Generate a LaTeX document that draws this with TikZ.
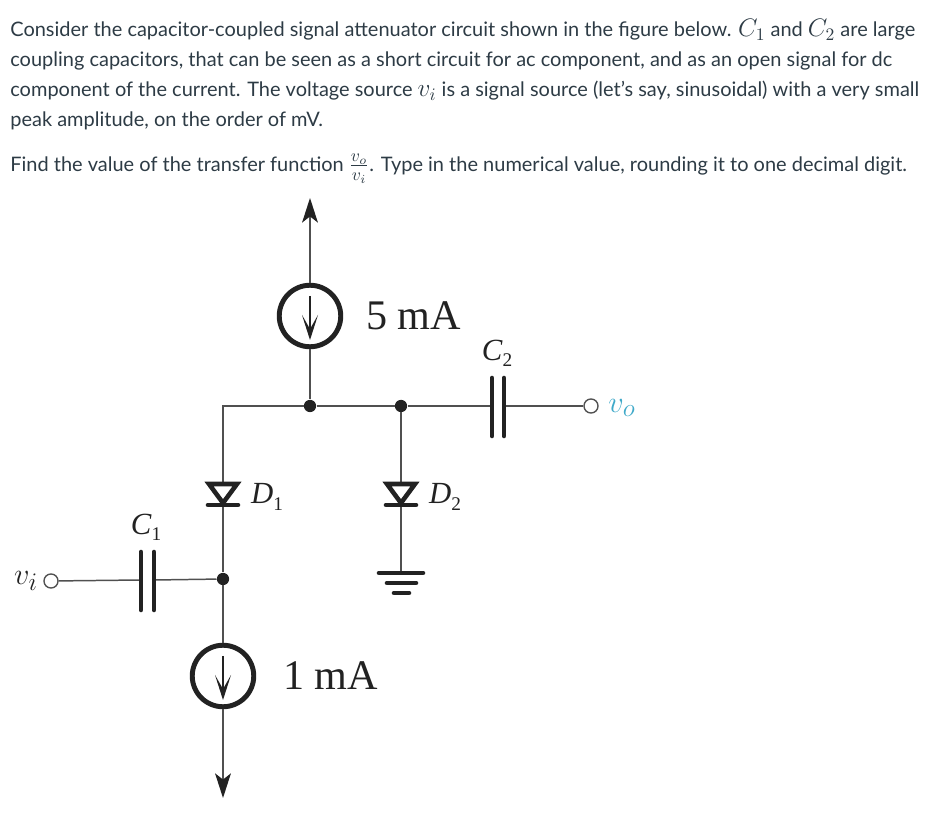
\documentclass[tikz,border=0pt]{standalone}
\usepackage{fontspec}
\usepackage{amsmath}
\setmainfont{Lato}
\newfontfamily\timesfont{Liberation Serif}
\usetikzlibrary{arrows.meta}
\definecolor{textgray}{HTML}{2D3B45}
\definecolor{wiregray}{HTML}{505050}
\definecolor{inkblack}{HTML}{222222}
\definecolor{voblue}{HTML}{3FA9C9}
\tikzset{
    wire/.style={draw=wiregray,line width=0.85pt},
    plate/.style={draw=inkblack,line width=2.6pt,line cap=round},
    dot/.style={circle,fill=inkblack,inner sep=0pt,minimum size=7pt},
    port/.style={circle,draw=wiregray,fill=white,line width=0.8pt,inner sep=0pt,minimum size=8pt},
    source/.style={circle,draw=inkblack,line width=2.8pt,fill=white,inner sep=0pt,minimum size=35pt},
    para/.style={anchor=base west,inner sep=0pt,text=textgray,font=\fontsize{11.37}{14}\selectfont},
    value/.style={inner sep=0pt,text=inkblack,font=\timesfont\fontsize{24}{28}\selectfont},
    symb/.style={inner sep=0pt,text=inkblack,font=\timesfont\fontsize{17.5}{20}\selectfont},
    volt/.style={inner sep=0pt,text=inkblack,font=\fontsize{19}{22}\selectfont},
    bigtip/.style={-{Stealth[length=14pt,width=9pt,inset=3.5pt,color=inkblack]}}
}
\newcommand{\lgm}[1]{{\fontsize{14}{14}\selectfont$#1$}}
\newcommand{\lowsub}[1]{\raisebox{-3.5pt}{\fontsize{11}{12}\selectfont #1}}
\begin{document}
\begin{tikzpicture}[x=0.02cm,y=-0.02cm]
    \useasboundingbox (0,0) rectangle (938,824);

    \node[para] (line1) at (10,37) {Consider the capacitor-coupled signal attenuator circuit shown in the figure below. \lgm{C_1} and \lgm{C_2} are large};
    \node[para] (line2) at (10,67) {coupling capacitors, that can be seen as a short circuit for ac component, and as an open signal for dc};
    \node[para] (line3) at (10,97) {component of the current. The voltage source \lgm{v_i} is a signal source (let's say, sinusoidal) with a very small};
    \node[para] (line4) at (10,127) {peak amplitude, on the order of mV.};
    \node[para] (line5) at (10,172) {Find the value of the transfer function \lgm{\frac{v_o}{v_i}}. Type in the numerical value, rounding it to one decimal digit.};

    \coordinate (topend) at (310,198);
    \coordinate (botend) at (223,798);
    \coordinate (corner) at (223,406);
    \coordinate (c1l) at (141,580);
    \coordinate (c1r) at (154,580);
    \coordinate (c2l) at (492,406);
    \coordinate (c2r) at (504,406);
    \coordinate (gnd) at (401,573);

    \node[dot] (topdot) at (310,406) {};
    \node[dot] (d2dot) at (401,406) {};
    \node[dot] (indot) at (223,579) {};
    \node[port] (vi) at (51,581) {};
    \node[port] (vo) at (591,406) {};
    \node[source] (src5) at (310,316) {};
    \node[source] (src1) at (223,676) {};

    % wires
    \draw[wire,bigtip] (src5) -- (topend);
    \draw[wire,bigtip] (src1) -- (botend);
    \draw[wire] (src5) -- (topdot);
    \draw[wire] (topdot) -- (d2dot);
    \draw[wire] (d2dot) -- (c2l);
    \draw[wire] (c2r) -- (vo);
    \draw[wire] (topdot) -- (corner) -- (indot);
    \draw[wire] (indot) -- (src1);
    \draw[wire] (vi) -- (c1l);
    \draw[wire] (c1r) -- (indot);
    \draw[wire] (d2dot) -- (gnd);

    % capacitors
    \foreach \i in {141,154} {\draw[plate] (\i,552) -- (\i,610);}
    \foreach \i in {492,504} {\draw[plate] (\i,378) -- (\i,436);}

    % diodes
    \foreach \i in {223,401} {
        \draw[draw=inkblack,line width=2.6pt,line join=miter,fill=white] (\i-14,484) -- (\i+14,484) -- (\i,503) -- cycle;
        \draw[plate] (\i-15,505) -- (\i+15,505);
    }

    % ground
    \draw[plate] (379,573) -- (423,573);
    \draw[plate] (387,583) -- (416,583);
    \draw[plate] (394,593) -- (409,593);

    % arrows in the sources
    \foreach \i/\j in {310/316,223/676} {
        \draw[draw=inkblack,line width=1.3pt] (\i,\j-20) -- (\i,\j+15);
        \fill[inkblack] (\i-8,\j-1) -- (\i,\j+24) -- (\i+8,\j-1) -- (\i,\j+13) -- cycle;
    }

    \node[value] (l5ma) at (413.5,316) {5 mA};
    \node[value] (l1ma) at (330.5,676) {1 mA};
    \node[symb] (lc1) at (146,527) {\textit{C}\lowsub{1}};
    \node[symb] (lc2) at (497,353) {\textit{C}\lowsub{2}};
    \node[symb] (ld1) at (267,497) {\textit{D}\lowsub{1}};
    \node[symb] (ld2) at (445,497) {\textit{D}\lowsub{2}};
    \node[volt] (lvi) at (26,581) {$v_i$};
    \node[volt,text=voblue] (lvo) at (622,408) {$v_o$};
\end{tikzpicture}
\end{document}
